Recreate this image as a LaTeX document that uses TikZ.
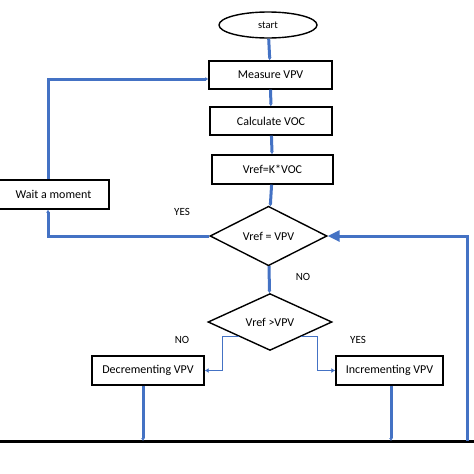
\documentclass[tikz,border=0pt]{standalone}
\usepackage{fontspec}
\setmainfont{Carlito}
\usetikzlibrary{shapes,arrows.meta,positioning}
\definecolor{flowblue}{HTML}{4472C4}

\begin{document}
\begin{tikzpicture}[
        x=1pt, y=-1pt,
        every node/.style={font=\fontsize{12}{14}\selectfont},
        box/.style={draw, line width=1.4pt, rectangle, minimum height=28pt, inner sep=0pt},
        choice/.style={draw, line width=1.4pt, diamond, inner sep=0pt},
        flow/.style={draw=flowblue, line width=3pt, -{Latex[length=3pt,width=4pt]}},
        thinflow/.style={draw=flowblue, line width=1.6pt, -{Latex[length=4pt,width=5pt]}},
        answer/.style={font=\fontsize{11}{13}\selectfont}
    ]
        \useasboundingbox (0,0) rectangle (474,474);

        % start terminal
        \node[draw, line width=1.4pt, ellipse, minimum width=98pt, minimum height=26pt,
              font=\fontsize{10.5}{12}\selectfont] (start) at (268,25) {start};

        % main column of steps
        \node[box, minimum width=123pt] (measure) at (270.5,75) {Measure VPV};
        \node[box, minimum width=122pt] (calc) at (271,121) {Calculate VOC};
        \node[box, minimum width=121pt, minimum height=29pt] (vref) at (272.5,169.5) {Vref=K*VOC};

        % first test
        \node[choice, minimum width=117pt, minimum height=55pt] (equal) at (268.5,236) {Vref = VPV};

        % wait box on the left
        \node[box, minimum width=111pt, minimum height=29pt] (wait) at (53.5,194.5) {Wait a moment};

        % second test
        \node[choice, minimum width=124pt, minimum height=55pt] (greater) at (270,322) {Vref >VPV};

        % the two branches
        \node[box, minimum width=112pt, minimum height=29pt] (dec) at (148,370.5) {Decrementing VPV};
        \node[box, minimum width=107pt, minimum height=29pt] (inc) at (389.5,370.5) {Incrementing VPV};

        % branch labels
        \node[answer] (yes1) at (182,212) {YES};
        \node[answer] (no1) at (303,277) {NO};
        \node[answer] (no2) at (182,340) {NO};
        \node[answer] (yes2) at (358,340) {YES};

        % bottom return line
        \coordinate (bl) at (0,441);
        \coordinate (br) at (474,441);
        \coordinate (loop) at (467,441);
        \draw[line width=3pt] (bl) -- (br);

        % main flow
        \draw[flow] (start) -- (measure);
        \draw[flow] (measure) -- (calc);
        \draw[flow] (calc) -- (vref);
        \draw[flow] (vref) -- (equal);
        \draw[flow] (equal) -- (greater);

        % yes: wait and measure again
        \draw[flow] (equal.west) -| ([xshift=-5.5pt]wait.south);
        \draw[flow] ([xshift=-5.5pt]wait.north) |- ([yshift=-4pt]measure.west);

        % no: branches
        \draw[thinflow] (greater.south west) -- ++(-16,0) |- (dec.east);
        \draw[thinflow] (greater.south east) -- ++(16,0) |- (inc.west);
        \draw[flow] ([xshift=-5pt]dec.south) -- ([xshift=-5pt]dec.south |- bl);
        \draw[flow] ([xshift=1.5pt]inc.south) -- ([xshift=1.5pt]inc.south |- bl);

        % back to the first test
        \draw[draw=flowblue, line width=3pt, -{Triangle[length=12pt,width=11pt]}] (loop) |- (equal.east);

    \end{tikzpicture}
\end{document}
